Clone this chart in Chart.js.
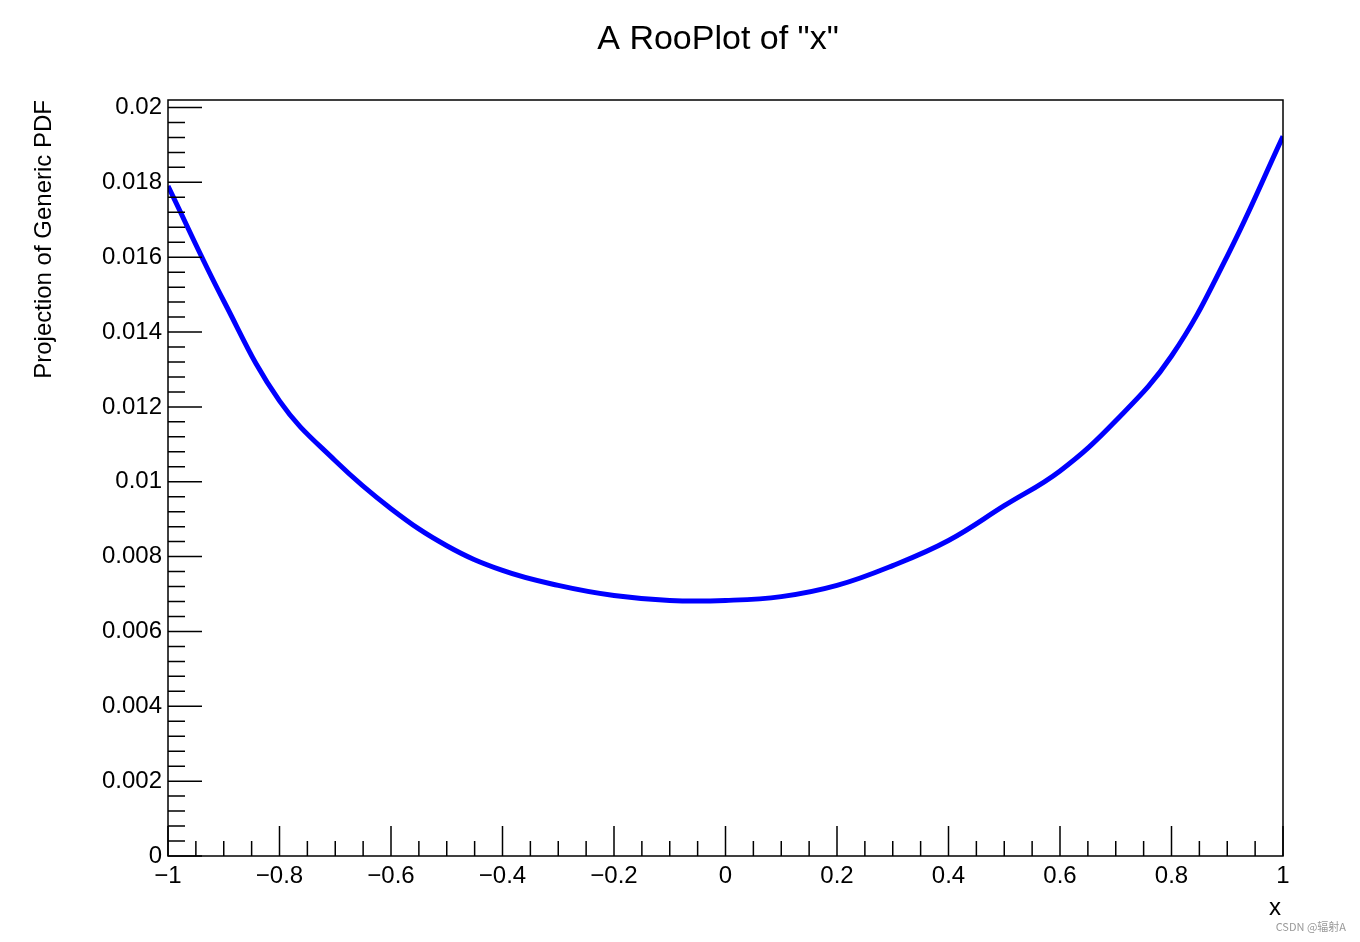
<!DOCTYPE html>
<html>
<head>
<meta charset="utf-8">
<script src="https://cdn.jsdelivr.net/npm/chart.js@4/dist/chart.umd.min.js"></script>
<style>
  body { margin: 0; background: #fff; }
  #wrap { width: 1360px; height: 942px; }
</style>
</head>
<body>
<div id="wrap"><canvas id="myChart"></canvas></div>
<script>
var xValues = [-1, -0.9, -0.8, -0.7, -0.6, -0.5, -0.4, -0.3, -0.2, -0.1, 0, 0.1, 0.2, 0.3, 0.4, 0.5, 0.6, 0.7, 0.8, 0.9, 1];
var pdfValues = [0.0179, 0.01483, 0.01216, 0.01056, 0.00928, 0.00829, 0.00763, 0.00723, 0.00696, 0.00683, 0.00683,
                 0.00693, 0.00723, 0.00776, 0.00843, 0.00936, 0.01029, 0.01163, 0.01336, 0.01603, 0.01923];
var xTicks = [-1, -0.8, -0.6, -0.4, -0.2, 0, 0.2, 0.4, 0.6, 0.8, 1];
var yTicks = [0, 0.002, 0.004, 0.006, 0.008, 0.01, 0.012, 0.014, 0.016, 0.018, 0.02];

var points = [];
for (var i = 0; i < xValues.length; i++) points.push({x: xValues[i], y: pdfValues[i]});

function fmt(v) {
    var s = String(Math.round(v * 1000000) / 1000000);
    return s.replace('-', '\u2212');
}

var rootFrame = {
    id: 'rootFrame',
    afterDraw: function(chart) {
        var c = chart.ctx, a = chart.chartArea;
        var xs = chart.scales.x, ys = chart.scales.y;
        c.save();
        c.strokeStyle = '#000';
        c.lineWidth = 1.5;
        c.strokeRect(a.left, a.top, a.right - a.left, a.bottom - a.top);
        c.beginPath();
        var v, p;
        for (var k = 0; k <= 40; k++) {
            v = -1 + k * 0.05;
            p = xs.getPixelForValue(v);
            c.moveTo(p, a.bottom);
            c.lineTo(p, a.bottom - (k % 4 === 0 ? 30 : 15));
        }
        for (k = 0; k <= 50; k++) {
            v = k * 0.0004;
            p = ys.getPixelForValue(v);
            c.moveTo(a.left, p);
            c.lineTo(a.left + (k % 5 === 0 ? 34 : 17), p);
        }
        c.stroke();
        c.fillStyle = '#000';
        c.font = '24px "Liberation Sans", Arial, sans-serif';
        c.textAlign = 'center';
        c.textBaseline = 'top';
        xTicks.forEach(function(t) { c.fillText(fmt(t), xs.getPixelForValue(t), a.bottom + 8); });
        c.textAlign = 'right';
        c.textBaseline = 'middle';
        yTicks.forEach(function(t) { c.fillText(fmt(t), a.left - 6, ys.getPixelForValue(t)); });
        c.textAlign = 'right';
        c.textBaseline = 'top';
        c.fillText('x', a.right - 2, a.bottom + 40);
        c.save();
        c.translate(44, a.top);
        c.rotate(-Math.PI / 2);
        c.textAlign = 'right';
        c.textBaseline = 'middle';
        c.fillText('Projection of Generic PDF', 0, 0);
        c.restore();
        c.font = '34px "Liberation Sans", Arial, sans-serif';
        c.textAlign = 'center';
        c.textBaseline = 'middle';
        c.fillText('A RooPlot of "x"', 718, 40);
        c.font = '11px "Noto Sans CJK SC", sans-serif';
        c.fillStyle = '#999';
        c.textAlign = 'right';
        c.fillText('CSDN @辐射A', 1346, 927);
        c.restore();
    }
};

var ctx = document.getElementById('myChart').getContext('2d');
var myChart = new Chart(ctx, {
    type: 'line',
    data: {
        datasets: [{
            data: points,
            borderColor: '#0000ff',
            borderWidth: 5,
            pointRadius: 0,
            tension: 0.4,
            fill: false
        }]
    },
    options: {
        responsive: true,
        maintainAspectRatio: false,
        animation: false,
        layout: { padding: { left: 168, right: 77, top: 100, bottom: 86 } },
        plugins: { legend: { display: false }, tooltip: { enabled: false } },
        scales: {
            x: { type: 'linear', min: -1, max: 1, display: false },
            y: { type: 'linear', min: 0, max: 0.0202, display: false }
        }
    },
    plugins: [rootFrame]
});
</script>
</body>
</html>
